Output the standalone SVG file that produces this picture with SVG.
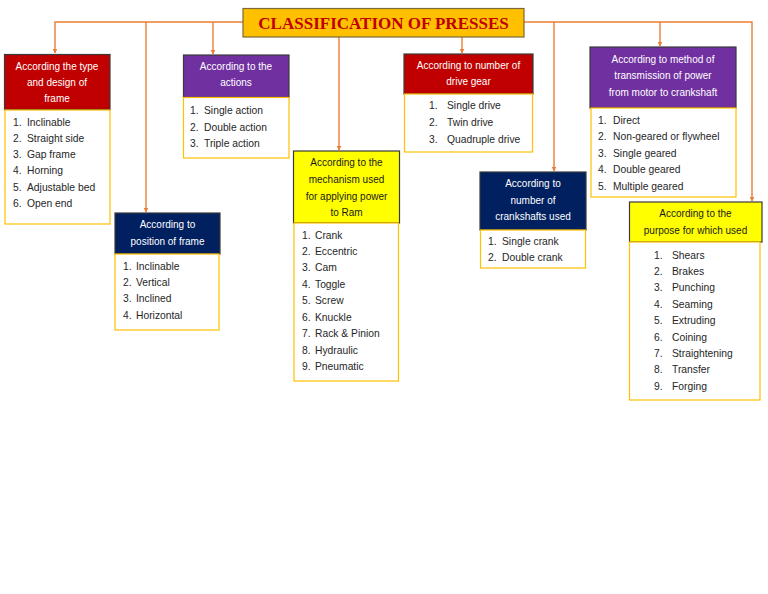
<svg xmlns="http://www.w3.org/2000/svg" width="768" height="594" viewBox="0 0 768 594">
<style>
.hd{stroke:#3a3a3a;stroke-width:1.2}
.bd{fill:#fff;stroke:#FFC000;stroke-width:1.2}
.ht{font-family:"Liberation Sans",Arial,sans-serif;font-size:10px;fill:#fff;text-anchor:middle}
.htd{font-family:"Liberation Sans",Arial,sans-serif;font-size:10px;fill:#1a1a1a;text-anchor:middle}
.it{font-family:"Liberation Sans",Arial,sans-serif;font-size:10.3px;fill:#262626}
.cn{fill:none;stroke:#ED7D31;stroke-width:1.4}
</style>
<defs>
<marker id="ar" viewBox="0 0 10 10" refX="9" refY="5" markerWidth="4.5" markerHeight="4.5" orient="auto" markerUnits="userSpaceOnUse">
<path d="M0,0 L10,5 L0,10 z" fill="#ED7D31"/>
</marker>
</defs>
<rect width="768" height="594" fill="#fff"/>
<g id="connectors">
<path class="cn" d="M243,22 H55 V53" marker-end="url(#ar)"/>
<path class="cn" d="M146,22 V212" marker-end="url(#ar)"/>
<path class="cn" d="M213,22 V54" marker-end="url(#ar)"/>
<path class="cn" d="M339,37 V150" marker-end="url(#ar)"/>
<path class="cn" d="M462,37 V53" marker-end="url(#ar)"/>
<path class="cn" d="M524,22 H752 V201" marker-end="url(#ar)"/>
<path class="cn" d="M554,22 V171" marker-end="url(#ar)"/>
<path class="cn" d="M660,22 V46" marker-end="url(#ar)"/>
</g>
<g id="title">
<rect x="243" y="8.5" width="281" height="28.5" fill="#FFC000" stroke="#7a6a3a" stroke-width="1.2"/>
<text x="383.5" y="29" font-family="'Liberation Serif','Times New Roman',serif" font-weight="bold" font-size="17" fill="#C00000" text-anchor="middle">CLASSIFICATION OF PRESSES</text>
</g>
<g id="type-design">
<rect class="hd" x="4.5" y="54.5" width="105.5" height="55" fill="#C00000"/>
<text class="ht" x="57" y="70">According the type</text>
<text class="ht" x="57" y="86">and design of</text>
<text class="ht" x="57" y="102">frame</text>
<rect class="bd" x="5" y="110" width="105" height="114"/>
<text class="it" y="126"><tspan x="13">1.</tspan><tspan x="27">Inclinable</tspan></text>
<text class="it" y="142"><tspan x="13">2.</tspan><tspan x="27">Straight side</tspan></text>
<text class="it" y="158"><tspan x="13">3.</tspan><tspan x="27">Gap frame</tspan></text>
<text class="it" y="174"><tspan x="13">4.</tspan><tspan x="27">Horning</tspan></text>
<text class="it" y="191"><tspan x="13">5.</tspan><tspan x="27">Adjustable bed</tspan></text>
<text class="it" y="207"><tspan x="13">6.</tspan><tspan x="27">Open end</tspan></text>
</g>
<g id="position-frame">
<rect class="hd" x="115" y="213" width="105" height="41" fill="#002060"/>
<text class="ht" x="167.5" y="228">According to</text>
<text class="ht" x="167.5" y="245">position of frame</text>
<rect class="bd" x="115" y="254" width="104" height="76"/>
<text class="it" y="270"><tspan x="123">1.</tspan><tspan x="136">Inclinable</tspan></text>
<text class="it" y="286"><tspan x="123">2.</tspan><tspan x="136">Vertical</tspan></text>
<text class="it" y="302"><tspan x="123">3.</tspan><tspan x="136">Inclined</tspan></text>
<text class="it" y="319"><tspan x="123">4.</tspan><tspan x="136">Horizontal</tspan></text>
</g>
<g id="actions">
<rect class="hd" x="183.5" y="55" width="105.5" height="42.5" fill="#7030A0"/>
<text class="ht" x="236" y="70">According to the</text>
<text class="ht" x="236" y="86">actions</text>
<rect class="bd" x="183.5" y="97.5" width="105.5" height="60.5"/>
<text class="it" y="114"><tspan x="190">1.</tspan><tspan x="204">Single action</tspan></text>
<text class="it" y="131"><tspan x="190">2.</tspan><tspan x="204">Double action</tspan></text>
<text class="it" y="147"><tspan x="190">3.</tspan><tspan x="204">Triple action</tspan></text>
</g>
<g id="mechanism">
<rect class="hd" x="293.5" y="151" width="106" height="72" fill="#FFFF00"/>
<text class="htd" x="346.5" y="166">According to the</text>
<text class="htd" x="346.5" y="183">mechanism used</text>
<text class="htd" x="346.5" y="200">for applying power</text>
<text class="htd" x="346.5" y="216">to Ram</text>
<rect class="bd" x="294" y="223" width="104.5" height="158"/>
<text class="it" y="239"><tspan x="302">1.</tspan><tspan x="315">Crank</tspan></text>
<text class="it" y="255"><tspan x="302">2.</tspan><tspan x="315">Eccentric</tspan></text>
<text class="it" y="271"><tspan x="302">3.</tspan><tspan x="315">Cam</tspan></text>
<text class="it" y="288"><tspan x="302">4.</tspan><tspan x="315">Toggle</tspan></text>
<text class="it" y="304"><tspan x="302">5.</tspan><tspan x="315">Screw</tspan></text>
<text class="it" y="321"><tspan x="302">6.</tspan><tspan x="315">Knuckle</tspan></text>
<text class="it" y="337"><tspan x="302">7.</tspan><tspan x="315">Rack &amp; Pinion</tspan></text>
<text class="it" y="354"><tspan x="302">8.</tspan><tspan x="315">Hydraulic</tspan></text>
<text class="it" y="370"><tspan x="302">9.</tspan><tspan x="315">Pneumatic</tspan></text>
</g>
<g id="drive-gear">
<rect class="hd" x="404" y="54" width="129" height="40" fill="#C00000"/>
<text class="ht" x="468.5" y="69">According to number of</text>
<text class="ht" x="468.5" y="85">drive gear</text>
<rect class="bd" x="404.5" y="94" width="128" height="58"/>
<text class="it" y="109"><tspan x="429">1.</tspan><tspan x="447">Single drive</tspan></text>
<text class="it" y="126"><tspan x="429">2.</tspan><tspan x="447">Twin drive</tspan></text>
<text class="it" y="143"><tspan x="429">3.</tspan><tspan x="447">Quadruple drive</tspan></text>
</g>
<g id="crankshafts">
<rect class="hd" x="480" y="172" width="106" height="58" fill="#002060"/>
<text class="ht" x="533" y="187">According to</text>
<text class="ht" x="533" y="204">number of</text>
<text class="ht" x="533" y="220">crankshafts used</text>
<rect class="bd" x="480.5" y="230" width="105" height="38"/>
<text class="it" y="245"><tspan x="488">1.</tspan><tspan x="502">Single crank</tspan></text>
<text class="it" y="261"><tspan x="488">2.</tspan><tspan x="502">Double crank</tspan></text>
</g>
<g id="transmission">
<rect class="hd" x="590" y="47" width="146" height="61" fill="#7030A0"/>
<text class="ht" x="663" y="63">According to method of</text>
<text class="ht" x="663" y="79">transmission of power</text>
<text class="ht" x="663" y="96">from motor to crankshaft</text>
<rect class="bd" x="591" y="108" width="145" height="89"/>
<text class="it" y="124"><tspan x="598">1.</tspan><tspan x="613">Direct</tspan></text>
<text class="it" y="140"><tspan x="598">2.</tspan><tspan x="613">Non-geared or flywheel</tspan></text>
<text class="it" y="157"><tspan x="598">3.</tspan><tspan x="613">Single geared</tspan></text>
<text class="it" y="173"><tspan x="598">4.</tspan><tspan x="613">Double geared</tspan></text>
<text class="it" y="190"><tspan x="598">5.</tspan><tspan x="613">Multiple geared</tspan></text>
</g>
<g id="purpose">
<rect class="hd" x="629.5" y="202" width="132.5" height="40" fill="#FFFF00"/>
<text class="htd" x="695.5" y="217">According to the</text>
<text class="htd" x="695.5" y="234">purpose for which used</text>
<rect class="bd" x="629.5" y="242" width="130.5" height="158"/>
<text class="it" y="259"><tspan x="654">1.</tspan><tspan x="672">Shears</tspan></text>
<text class="it" y="275"><tspan x="654">2.</tspan><tspan x="672">Brakes</tspan></text>
<text class="it" y="291"><tspan x="654">3.</tspan><tspan x="672">Punching</tspan></text>
<text class="it" y="308"><tspan x="654">4.</tspan><tspan x="672">Seaming</tspan></text>
<text class="it" y="324"><tspan x="654">5.</tspan><tspan x="672">Extruding</tspan></text>
<text class="it" y="341"><tspan x="654">6.</tspan><tspan x="672">Coining</tspan></text>
<text class="it" y="357"><tspan x="654">7.</tspan><tspan x="672">Straightening</tspan></text>
<text class="it" y="373"><tspan x="654">8.</tspan><tspan x="672">Transfer</tspan></text>
<text class="it" y="390"><tspan x="654">9.</tspan><tspan x="672">Forging</tspan></text>
</g>
</svg>
